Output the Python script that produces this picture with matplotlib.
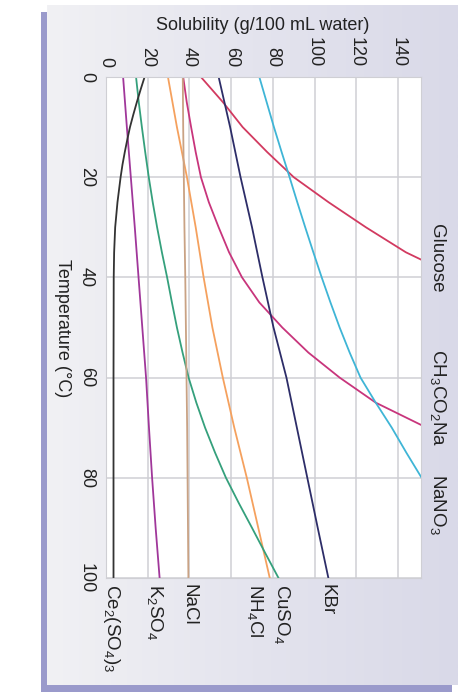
import numpy as np
import matplotlib
matplotlib.use("Agg")
import matplotlib.pyplot as plt
from matplotlib.colors import LinearSegmentedColormap
from matplotlib.patches import Rectangle
import matplotlib.transforms as mtransforms

plt.rcParams['font.family'] = ['Liberation Sans', 'DejaVu Sans']
plt.rcParams['mathtext.fontset'] = 'custom'
plt.rcParams['mathtext.rm'] = 'Liberation Sans'
plt.rcParams['mathtext.it'] = 'Liberation Sans'

# solubility (g/100 mL water), by temperature (deg C)
temp_10 = [0, 10, 20, 30, 40, 50, 60, 70, 80, 90, 100]
temp_5 = [0, 5, 10, 15, 20, 25, 30, 35, 40, 45, 50,
          55, 60, 65, 70, 75, 80, 85, 90, 95, 100]

temp_glucose = [0, 5, 10, 15, 20, 25, 30, 35, 36.5]
sol_glucose = [45.5, 56, 65.5, 77.3, 90, 106.7, 124.6, 143.8, 151.3]

temp_ch3co2na = [0, 5, 10, 15, 20, 25, 30, 35, 40, 45, 50, 55, 60, 65, 69.5]
sol_ch3co2na = [37, 38.7, 40.8, 43, 45.5, 49.3, 54, 59, 65.2, 73.5, 84.5,
                97, 112, 129.3, 151.3]

temp_nano3 = [0, 5, 10, 15, 20, 25, 30, 35, 40, 45, 50, 55, 60, 65, 70, 75, 80]
sol_nano3 = [73.5, 77, 80.5, 84.2, 88, 91.7, 95.5, 99.4, 103.4, 107.6, 112,
             116.8, 122, 129.3, 137, 144, 151.3]

sol_kbr = [54, 59.5, 64.5, 70, 75, 80.3, 86.5, 91.5, 96.5, 101.5, 106.6]
sol_nh4cl = [29.7, 34, 38.8, 43, 46.8, 51, 56, 61.5, 67.5, 73, 78.5]
sol_cuso4 = [14.4, 15.7, 17.2, 18.8, 20.5, 22.4, 24.5, 26.8, 29.3, 31.6, 34,
             36.7, 39.6, 43.3, 47.5, 52.3, 57.5, 63.6, 70, 76.3, 82.7]
sol_nacl = [36.8, 37, 37.3, 37.6, 38, 38.3, 38.6, 38.9, 39.1, 39.3, 39.5]
sol_k2so4 = [8.2, 10, 11.9, 13.8, 15.6, 17.4, 19.2, 20.6, 22.1, 23.8, 25.7]

temp_ce = [0, 2.5, 5, 7.5, 10, 12.5, 15, 17.5, 20, 25, 30, 35, 40, 60, 80, 100]
sol_ce = [18.5, 16.6, 14.8, 13.1, 11.5, 10.2, 9.0, 7.9, 7.0, 5.5, 4.4, 3.9,
          3.7, 3.6, 3.6, 3.6]

sol_ticks = [0, 20, 40, 60, 80, 100, 120, 140]
temp_ticks = [0, 20, 40, 60, 80, 100]

# labels on the right (curves that leave through the right edge)
right_names = ['Glucose', r'CH$_3$CO$_2$Na', r'NaNO$_3$']
right_label_temp = [36.1, 63.9, 85.4]

# labels under the plot (curves that reach 100 deg C)
bottom_names = [r'Ce$_2$(SO$_4$)$_3$', r'K$_2$SO$_4$', 'NaCl',
                r'CuSO$_4$', r'NH$_4$Cl', 'KBr']
bottom_label_sol = [2.6, 23.4, 39.6, 84.4, 71.6, 105.8]

W, H = 465, 700
fig = plt.figure(figsize=(W / 100, H / 100), dpi=100)
fig.patch.set_facecolor('white')

# background panel with shadow
bg = fig.add_axes([0, 0, 1, 1], zorder=-5)
bg.set_xlim(0, W)
bg.set_ylim(H, 0)
bg.axis('off')
bg.add_patch(Rectangle((41, 12), 411, 680, facecolor='#9a9acb', edgecolor='none'))
grad = LinearSegmentedColormap.from_list('panel', ['#f1f1f4', '#e4e4ee', '#d9d9e8'])
bg.imshow(np.linspace(0, 1, 256).reshape(1, -1), cmap=grad, aspect='auto',
          extent=(47, 457, 685, 5), zorder=2)

ax = fig.add_axes([106 / W, 1 - 578 / H, 315 / W, 501 / H])
ax.set_facecolor('white')

lw = 1.3
ax.plot(sol_glucose, temp_glucose, color='#d23a60', lw=lw)
ax.plot(sol_ch3co2na, temp_ch3co2na, color='#c8357c', lw=lw)
ax.plot(sol_nano3, temp_nano3, color='#3fb5d6', lw=lw)
ax.plot(sol_kbr, temp_10, color='#2d2d68', lw=lw)
ax.plot(sol_nh4cl, temp_10, color='#f5a15e', lw=lw)
ax.plot(sol_cuso4, temp_5, color='#35a07c', lw=lw)
ax.plot(sol_nacl, temp_10, color='#c9a284', lw=lw)
ax.plot(sol_k2so4, temp_10, color='#a0379a', lw=lw)
ax.plot(sol_ce, temp_ce, color='#333333', lw=lw)

ax.set_xlim(0, 151)
ax.set_ylim(100, 0)
ax.set_xticks(sol_ticks)
ax.set_yticks(temp_ticks)
ax.grid(True, color='#cfcfd4', lw=1.1)
ax.set_axisbelow(True)
for sp in ax.spines.values():
    sp.set_color('#cfcfd4')
ax.xaxis.tick_top()
ax.tick_params(axis='both', length=0, labelsize=13, colors='#222222')
ax.tick_params(axis='x', pad=7)
ax.tick_params(axis='y', pad=8)
for lab in ax.get_xticklabels():
    lab.set_rotation(270)
    lab.set_ha('center')
for lab in ax.get_yticklabels():
    lab.set_rotation(270)
    lab.set_va('center')

fig.text(263 / W, 1 - 25 / H, 'Solubility (g/100 mL water)', ha='center',
         va='center', fontsize=13, color='#222222')
fig.text(62 / W, 1 - 328 / H, 'Temperature (\u00b0C)', rotation=270,
         ha='center', va='center', fontsize=13, color='#222222')

# compound labels
tr_right = mtransforms.blended_transform_factory(ax.transAxes, ax.transData)
for name, t in zip(right_names, right_label_temp):
    ax.text(1.0, t, name, rotation=270, ha='left', va='center',
            fontsize=13.5, color='#222222', clip_on=False,
            transform=tr_right + mtransforms.ScaledTranslation(7 / 100, 0, fig.dpi_scale_trans))

tr_bottom = mtransforms.blended_transform_factory(ax.transData, ax.transAxes)
for name, s in zip(bottom_names, bottom_label_sol):
    ax.text(s, 0.0, name, rotation=270, ha='center', va='top', fontsize=13.5,
            color='#222222', clip_on=False,
            transform=tr_bottom + mtransforms.ScaledTranslation(0, -6 / 100, fig.dpi_scale_trans))

fig.savefig('out.png', dpi=100, facecolor='white')
